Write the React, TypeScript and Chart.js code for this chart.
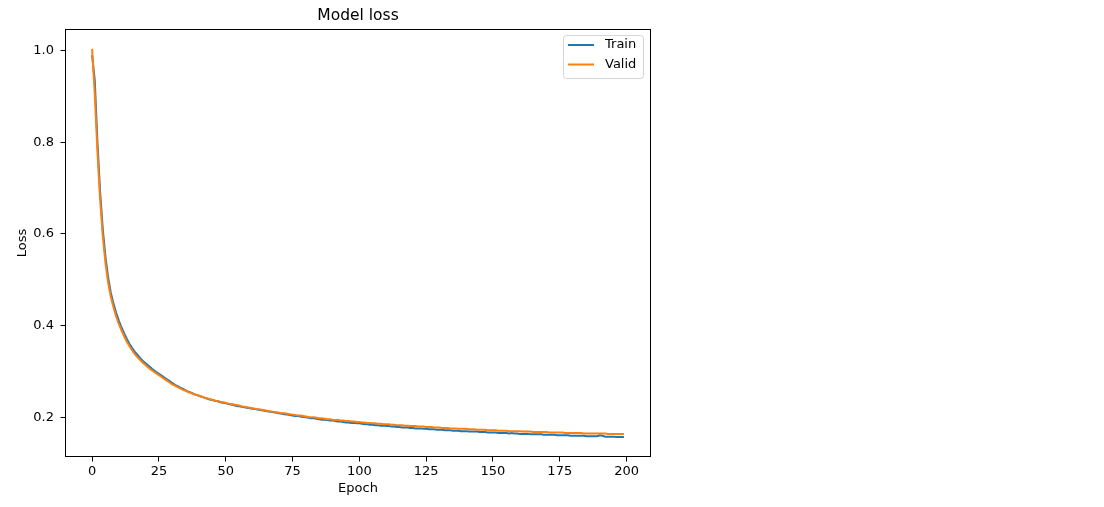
import { useEffect, useRef } from "react";
import { Chart, registerables } from "chart.js";

Chart.register(...registerables);

const chartTitle = "Model loss";
const xAxisLabel = "Epoch";
const yAxisLabel = "Loss";
const seriesNames = ["Train", "Valid"];
const seriesColors = ["#1f77b4", "#ff7f0e"];

const xTickValues = [0, 25, 50, 75, 100, 125, 150, 175, 200];
const yTickValues = [0.2, 0.4, 0.6, 0.8, 1.0];

const trainLoss = [
  0.990, 0.935, 0.800, 0.692, 0.610, 0.550, 0.505, 0.472, 0.448, 0.428,
  0.411, 0.396, 0.383, 0.371, 0.360, 0.351, 0.343, 0.336, 0.329, 0.323,
  0.318, 0.313, 0.308, 0.303, 0.299, 0.295, 0.291, 0.287, 0.283, 0.279,
  0.275, 0.271, 0.268, 0.265, 0.262, 0.259, 0.256, 0.254, 0.251, 0.249,
  0.247, 0.245, 0.243, 0.241, 0.239, 0.238, 0.236, 0.235, 0.233, 0.232,
  0.231, 0.229, 0.228, 0.227, 0.225, 0.224, 0.223, 0.222, 0.221, 0.220,
  0.219, 0.218, 0.217, 0.216, 0.215, 0.214, 0.213, 0.212, 0.211, 0.210,
  0.209, 0.208, 0.207, 0.206, 0.205, 0.204, 0.203, 0.203, 0.202, 0.201,
  0.200, 0.199, 0.198, 0.198, 0.197, 0.196, 0.195, 0.195, 0.194, 0.193,
  0.193, 0.192, 0.191, 0.191, 0.190, 0.189, 0.189, 0.188, 0.188, 0.187,
  0.187, 0.186, 0.185, 0.185, 0.184, 0.184, 0.183, 0.183, 0.182, 0.182,
  0.181, 0.181, 0.180, 0.180, 0.179, 0.179, 0.178, 0.178, 0.178, 0.177,
  0.177, 0.176, 0.176, 0.176, 0.175, 0.175, 0.174, 0.174, 0.174, 0.173,
  0.173, 0.173, 0.172, 0.172, 0.172, 0.171, 0.171, 0.171, 0.170, 0.170,
  0.170, 0.169, 0.169, 0.169, 0.169, 0.168, 0.168, 0.168, 0.167, 0.167,
  0.167, 0.167, 0.166, 0.166, 0.166, 0.166, 0.165, 0.166, 0.165, 0.165,
  0.164, 0.164, 0.164, 0.164, 0.163, 0.163, 0.163, 0.163, 0.163, 0.162,
  0.162, 0.162, 0.162, 0.162, 0.161, 0.161, 0.161, 0.161, 0.161, 0.160,
  0.160, 0.160, 0.160, 0.160, 0.160, 0.159, 0.159, 0.159, 0.159, 0.159,
  0.161, 0.160, 0.158, 0.158, 0.158, 0.158, 0.157, 0.157, 0.157, 0.157,
];

const validLoss = [
  1.0035, 0.905, 0.780, 0.675, 0.595, 0.537, 0.494, 0.463, 0.440, 0.420,
  0.404, 0.390, 0.377, 0.365, 0.355, 0.346, 0.338, 0.331, 0.325, 0.319,
  0.314, 0.309, 0.304, 0.300, 0.296, 0.292, 0.288, 0.284, 0.280, 0.276,
  0.272, 0.269, 0.266, 0.263, 0.260, 0.258, 0.255, 0.253, 0.251, 0.249,
  0.247, 0.245, 0.243, 0.241, 0.240, 0.238, 0.237, 0.235, 0.234, 0.233,
  0.232, 0.230, 0.229, 0.228, 0.227, 0.226, 0.224, 0.223, 0.222, 0.221,
  0.220, 0.219, 0.218, 0.217, 0.216, 0.215, 0.214, 0.213, 0.212, 0.211,
  0.210, 0.209, 0.209, 0.208, 0.207, 0.206, 0.205, 0.204, 0.204, 0.203,
  0.202, 0.201, 0.200, 0.200, 0.199, 0.198, 0.198, 0.197, 0.196, 0.196,
  0.195, 0.194, 0.194, 0.193, 0.193, 0.192, 0.192, 0.191, 0.191, 0.190,
  0.190, 0.189, 0.189, 0.188, 0.188, 0.187, 0.187, 0.186, 0.186, 0.185,
  0.185, 0.185, 0.184, 0.184, 0.183, 0.183, 0.183, 0.182, 0.182, 0.181,
  0.181, 0.181, 0.180, 0.180, 0.180, 0.179, 0.179, 0.179, 0.178, 0.178,
  0.178, 0.177, 0.177, 0.177, 0.176, 0.176, 0.176, 0.175, 0.175, 0.175,
  0.175, 0.174, 0.174, 0.174, 0.173, 0.173, 0.173, 0.173, 0.172, 0.172,
  0.172, 0.172, 0.171, 0.171, 0.171, 0.171, 0.170, 0.170, 0.170, 0.170,
  0.170, 0.169, 0.169, 0.169, 0.169, 0.168, 0.168, 0.168, 0.168, 0.168,
  0.168, 0.167, 0.167, 0.167, 0.167, 0.167, 0.167, 0.166, 0.166, 0.166,
  0.166, 0.166, 0.166, 0.166, 0.165, 0.165, 0.165, 0.165, 0.165, 0.165,
  0.165, 0.165, 0.165, 0.164, 0.164, 0.164, 0.164, 0.164, 0.164, 0.164,
];

const FONT = "'DejaVu Sans', sans-serif";

export default function App() {
  const canvasRef = useRef<HTMLCanvasElement | null>(null);

  useEffect(() => {
    const canvas = canvasRef.current;
    if (!canvas) return;

    const toPoints = (arr: number[]) => arr.map((v, i) => ({ x: i, y: v }));
    const n = trainLoss.length;
    const xPad = 0.05 * (n - 1);
    const all = trainLoss.concat(validLoss);
    const dMin = Math.min(...all);
    const dMax = Math.max(...all);
    const yPad = 0.05 * (dMax - dMin);

    const framePlugin = {
      id: "frameAndLegend",
      afterDatasetsDraw(chart: any) {
        const { ctx, chartArea } = chart;
        ctx.save();
        ctx.strokeStyle = "#000";
        ctx.lineWidth = 1;
        ctx.strokeRect(
          chartArea.left,
          chartArea.top,
          chartArea.right - chartArea.left,
          chartArea.bottom - chartArea.top
        );

        // legend
        const bx = 563.5, by = 35.5, bw = 80, bh = 43, r = 3;
        ctx.beginPath();
        ctx.moveTo(bx + r, by);
        ctx.lineTo(bx + bw - r, by);
        ctx.quadraticCurveTo(bx + bw, by, bx + bw, by + r);
        ctx.lineTo(bx + bw, by + bh - r);
        ctx.quadraticCurveTo(bx + bw, by + bh, bx + bw - r, by + bh);
        ctx.lineTo(bx + r, by + bh);
        ctx.quadraticCurveTo(bx, by + bh, bx, by + bh - r);
        ctx.lineTo(bx, by + r);
        ctx.quadraticCurveTo(bx, by, bx + r, by);
        ctx.closePath();
        ctx.fillStyle = "rgba(255,255,255,0.8)";
        ctx.fill();
        ctx.strokeStyle = "rgba(204,204,204,0.8)";
        ctx.stroke();

        const rows = [45, 64.5];
        seriesNames.forEach((name, i) => {
          ctx.strokeStyle = seriesColors[i];
          ctx.lineWidth = 2;
          ctx.beginPath();
          ctx.moveTo(568, rows[i]);
          ctx.lineTo(594, rows[i]);
          ctx.stroke();
          ctx.fillStyle = "#000";
          ctx.font = `13px ${FONT}`;
          ctx.textAlign = "left";
          ctx.textBaseline = "middle";
          ctx.fillText(name, 605, rows[i]);
        });
        ctx.restore();
      },
    };

    const chart = new Chart(canvas, {
      type: "line",
      data: {
        datasets: [
          {
            label: seriesNames[0],
            data: toPoints(trainLoss),
            borderColor: seriesColors[0],
            backgroundColor: seriesColors[0],
            borderWidth: 2,
            pointRadius: 0,
            tension: 0,
            order: 2,
          },
          {
            label: seriesNames[1],
            data: toPoints(validLoss),
            borderColor: seriesColors[1],
            backgroundColor: seriesColors[1],
            borderWidth: 2,
            pointRadius: 0,
            tension: 0,
            order: 1,
          },
        ],
      },
      options: {
        animation: false,
        responsive: false,
        devicePixelRatio: 1,
        layout: { padding: { left: 0, right: 453.5, top: 0, bottom: 0 } },
        plugins: {
          legend: { display: false },
          tooltip: { enabled: false },
          title: {
            display: true,
            text: chartTitle,
            fullSize: false,
            color: "#000",
            font: { family: FONT, size: 15.5, weight: "normal" as any, lineHeight: 1.2 },
            padding: { top: 6.2, bottom: 4.7 },
          },
        },
        scales: {
          x: {
            type: "linear",
            min: -xPad,
            max: n - 1 + xPad,
            afterFit: (scale: any) => {
              scale.height = 50.5;
            },
            afterBuildTicks: (scale: any) => {
              scale.ticks = xTickValues.map((v) => ({ value: v }));
            },
            ticks: {
              color: "#000",
              font: { family: FONT, size: 13 },
              padding: 2,
              maxRotation: 0,
              autoSkip: false,
              callback: (v: any) => String(v),
            },
            grid: {
              display: true,
              drawOnChartArea: false,
              drawTicks: true,
              tickLength: 5,
              color: "#000",
              lineWidth: 1,
            },
            border: { display: false },
            title: {
              display: true,
              text: xAxisLabel,
              color: "#000",
              font: { family: FONT, size: 13, lineHeight: 1.2 },
              padding: { top: 0, bottom: 10.2 },
            },
          },
          y: {
            type: "linear",
            min: dMin - yPad,
            max: dMax + yPad,
            afterFit: (scale: any) => {
              scale.width = 65.5;
            },
            afterBuildTicks: (scale: any) => {
              scale.ticks = yTickValues.map((v) => ({ value: v }));
            },
            ticks: {
              color: "#000",
              font: { family: FONT, size: 13 },
              padding: 6.5,
              autoSkip: false,
              callback: (v: any) => Number(v).toFixed(1),
            },
            grid: {
              display: true,
              drawOnChartArea: false,
              drawTicks: true,
              tickLength: 5,
              color: "#000",
              lineWidth: 1,
            },
            border: { display: false },
            title: {
              display: true,
              text: yAxisLabel,
              color: "#000",
              font: { family: FONT, size: 13, lineHeight: 1.2 },
              padding: { top: 15.2, bottom: 0 },
            },
          },
        },
      },
      plugins: [framePlugin],
    });

    return () => chart.destroy();
  }, []);

  return (
    <div style={{ position: "absolute", left: 0, top: 0, width: 1104, height: 507, background: "#fff" }}>
      <canvas ref={canvasRef} width={1104} height={507} style={{ display: "block", width: 1104, height: 507 }} />
    </div>
  );
}
